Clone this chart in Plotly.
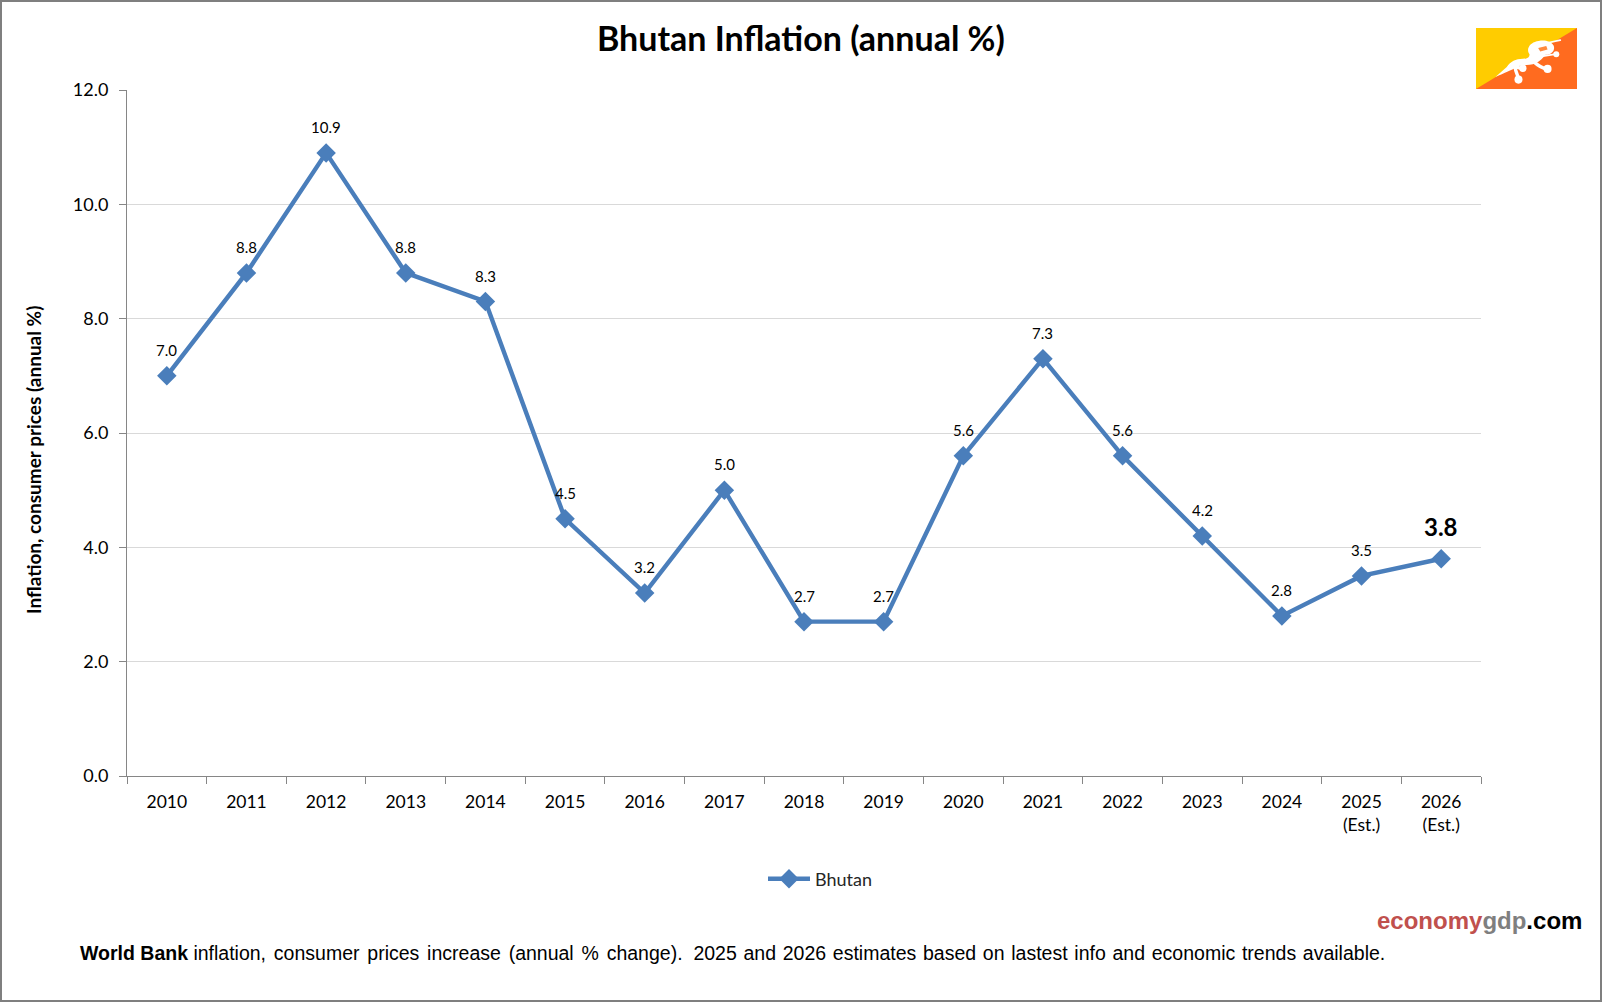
import base64
import plotly.graph_objects as go

W, H = 1602, 1002
PLOT_L, PLOT_R, PLOT_T, PLOT_B = 127, 1481, 90, 776

categories = ["2010", "2011", "2012", "2013", "2014", "2015", "2016", "2017", "2018",
              "2019", "2020", "2021", "2022", "2023", "2024", "2025<br>(Est.)", "2026<br>(Est.)"]
inflation = [7.0, 8.8, 10.9, 8.8, 8.3, 4.5, 3.2, 5.0, 2.7, 2.7, 5.6, 7.3, 5.6, 4.2, 2.8, 3.5, 3.8]
y_ticks = [0, 2, 4, 6, 8, 10, 12]


def px(x):
    return (x - PLOT_L) / (PLOT_R - PLOT_L)


def py(y):
    return (PLOT_B - y) / (PLOT_B - PLOT_T)


# Flag of Bhutan, with a simplified white dragon along the diagonal
flag_svg = """<svg xmlns='http://www.w3.org/2000/svg' viewBox='0 0 302 182' width='302' height='182'>
<defs><filter id='s'><feGaussianBlur stdDeviation='2'/></filter></defs>
<rect width='302' height='182' fill='#ff6b1f'/>
<polygon points='0,0 302,0 0,182' fill='#ffcc00'/>
<g filter='url(#s)'>
<path fill='#fff' d='M58,146 L92,116 C104,100 118,92 140,92 C152,92 160,88 160,78 C150,66 158,48 176,42
C196,34 222,36 232,52 C238,66 226,80 208,80 C198,92 186,104 170,108 C150,112 132,110 122,116
C110,124 84,134 58,146 Z'/>
<g fill='none' stroke='#fff' stroke-linecap='round' stroke-linejoin='round'>
<path d='M215,44 L252,36 M200,84 L238,78' stroke-width='5'/>
<path d='M172,100 C185,112 198,120 212,122' stroke-width='11'/>
<path d='M118,108 C122,120 130,120 137,120 M116,112 C118,130 124,140 127,150' stroke-width='10'/>
</g>
<g fill='#fff'>
<circle cx='127' cy='154' r='12'/><circle cx='140' cy='120' r='11'/>
<circle cx='214' cy='122' r='12'/><circle cx='240' cy='78' r='9'/>
</g>
<path d='M186,60 L210,54 L214,64 L192,70 Z' fill='#ff8a3c'/>
</g>
</svg>"""
flag_uri = "data:image/svg+xml;base64," + base64.b64encode(flag_svg.encode()).decode()

fig = go.Figure()
fig.add_trace(go.Scatter(
    x=categories, y=inflation, mode="lines+markers", name="Bhutan",
    line=dict(color="#4a7ebb", width=4.4),
    marker=dict(symbol="diamond", size=15, color="#4a7ebb"),
    hoverinfo="skip",
))

annotations = []
for i, val in enumerate(inflation):
    last = i == len(inflation) - 1
    annotations.append(dict(
        x=i, y=val, xref="x", yref="y", text=f"{val:.1f}", showarrow=False,
        yshift=32 if last else 26, yanchor="middle", xanchor="center",
        font=dict(family="Lato", size=24 if last else 15, color="#000000",
                  weight="bold" if last else "normal"),
    ))

annotations += [
    dict(x=px(33), y=py(460), xref="paper", yref="paper", showarrow=False, textangle=-90,
         xanchor="center", yanchor="middle",
         text="<b>Inflation, consumer prices (annual %)</b>",
         font=dict(family="Lato", size=19, color="#000000")),
    dict(x=px(801), y=py(37), xref="paper", yref="paper", showarrow=False,
         xanchor="center", yanchor="middle",
         text="<b>Bhutan Inflation (annual %)</b>",
         font=dict(family="Lato", size=34, color="#000000")),
    dict(x=px(78), y=py(953), xref="paper", yref="paper", showarrow=False,
         xanchor="left", yanchor="middle",
         text="<b>World Bank</b> <span style='word-spacing:2.4px'>inflation, consumer prices "
              "increase (annual % change).</span>  <span style='word-spacing:1.3px'>2025 and 2026 "
              "estimates based on lastest info and economic trends available.</span>",
         font=dict(family="Liberation Sans", size=19.5, color="#000000")),
    dict(x=px(1584), y=py(920), xref="paper", yref="paper", showarrow=False,
         xanchor="right", yanchor="middle",
         text="<b><span style='color:#c0504d'>economy</span><span style='color:#7f7f7f'>gdp</span>"
              "<span style='color:#000000'>.com</span></b>",
         font=dict(family="Liberation Sans", size=24)),
]

fig.update_layout(
    width=W, height=H, autosize=False,
    margin=dict(l=PLOT_L, r=W - PLOT_R, t=PLOT_T, b=H - PLOT_B, pad=0),
    paper_bgcolor="#ffffff", plot_bgcolor="#ffffff",
    font=dict(family="Lato", color="#000000"),
    showlegend=True,
    legend=dict(orientation="h", x=px(820), y=py(879), xanchor="center", yanchor="middle",
                font=dict(family="Lato", size=18, color="#262626"),
                itemwidth=42, bgcolor="rgba(0,0,0,0)", traceorder="normal"),
    annotations=annotations,
    images=[dict(source=flag_uri, xref="paper", yref="paper", x=px(1476), y=py(28),
                 sizex=(1577 - 1476) / (PLOT_R - PLOT_L), sizey=(89 - 28) / (PLOT_B - PLOT_T),
                 xanchor="left", yanchor="top", sizing="stretch", layer="above")],
    shapes=[dict(type="rect", xref="paper", yref="paper", x0=px(1), x1=px(W - 1),
                 y0=py(1), y1=py(H - 1), line=dict(color="#7f7f7f", width=2),
                 fillcolor="rgba(0,0,0,0)", layer="below")],
)
fig.update_xaxes(
    type="category", categoryorder="array", categoryarray=categories, range=[-0.5, 16.5],
    tickson="boundaries", ticks="outside", ticklen=7, tickcolor="#868686", tickwidth=1,
    showline=True, linecolor="#868686", linewidth=1, showgrid=False, zeroline=False,
    tickfont=dict(family="Lato", size=17.5, color="#000000"), ticklabelstandoff=10,
)
fig.update_yaxes(
    range=[0, 12], tickvals=y_ticks, tickformat=".1f", ticks="outside", ticklen=7,
    tickcolor="#868686", tickwidth=1, showline=True, linecolor="#868686", linewidth=1,
    showgrid=True, gridcolor="#d9d9d9", gridwidth=1, zeroline=False,
    tickfont=dict(family="Lato", size=18, color="#000000"), ticklabelstandoff=7,
)

fig.write_html("out.html")
